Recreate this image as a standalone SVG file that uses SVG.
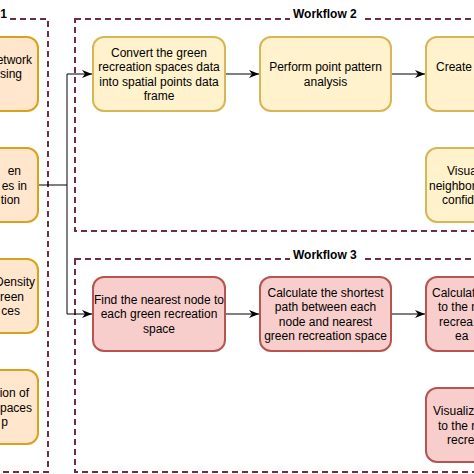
<svg xmlns="http://www.w3.org/2000/svg" width="474" height="474" viewBox="0 0 474 474">
<defs>
<style>
text{font-family:"Liberation Sans",Arial,Helvetica,sans-serif;font-size:12px;fill:#000}
.c{text-anchor:middle}.e{text-anchor:end}.s{text-anchor:start}
.lbl{font-weight:bold;font-size:12px}
.wf{fill:none;stroke:#6e2e3e;stroke-width:2;stroke-dasharray:6 4}
.o{fill:#ffe6cc;stroke:#d8a21f;stroke-width:2}
.y{fill:#fff2cc;stroke:#d6b656;stroke-width:2}
.r{fill:#f8cecc;stroke:#b85450;stroke-width:2}
.ln{fill:none;stroke:#000;stroke-width:1}
</style>
<marker id="ah" viewBox="0 0 10 8" markerWidth="10" markerHeight="8" refX="10" refY="4" orient="auto" markerUnits="userSpaceOnUse">
<path d="M0,0 L10,4 L0,8 L3,4 z" fill="#000"/>
</marker>
</defs>
<rect width="474" height="474" fill="#fff"/>

<g id="workflow1">
<rect class="wf" x="-300" y="19" width="348" height="453"/>
<rect x="-60" y="6" width="70" height="16" fill="#fff"/>
<text class="lbl e" x="7" y="18">Workflow 1</text>
</g>
<g id="workflow2">
<rect class="wf" x="75" y="19" width="500" height="212"/>
<rect x="290" y="6" width="71" height="16" fill="#fff"/>
<text class="lbl s" x="293" y="18">Workflow 2</text>
</g>
<g id="workflow3">
<rect class="wf" x="75" y="259" width="500" height="213"/>
<rect x="290" y="246" width="71" height="16" fill="#fff"/>
<text class="lbl s" x="293" y="259">Workflow 3</text>
</g>

<g id="connectors">
<path class="ln" d="M38,185 H67"/>
<path class="ln" d="M67,74 V314"/>
<path class="ln" d="M67,74 H92" marker-end="url(#ah)"/>
<path class="ln" d="M67,314 H92" marker-end="url(#ah)"/>
<path class="ln" d="M225,74 H259" marker-end="url(#ah)"/>
<path class="ln" d="M391,74 H425" marker-end="url(#ah)"/>
<path class="ln" d="M225,314 H259" marker-end="url(#ah)"/>
<path class="ln" d="M391,314 H425" marker-end="url(#ah)"/>
</g>

<g id="wf1-node1">
<rect class="o" x="-93" y="37" width="131" height="74" rx="11"/>
<text class="e" x="32" y="64">etwork</text>
<text class="e" x="22" y="78.4">sing</text>
</g>
<g id="wf1-node2">
<rect class="o" x="-93" y="148" width="131" height="74" rx="11"/>
<text class="e" x="21" y="175.3">en</text>
<text class="e" x="27" y="189.7">es in</text>
<text class="e" x="20" y="204.1">tion</text>
</g>
<g id="wf1-node3">
<rect class="o" x="-93" y="259" width="131" height="74" rx="11"/>
<text class="e" x="35" y="286.3">Density</text>
<text class="e" x="24" y="300.7">reen</text>
<text class="e" x="20" y="315.1">ces</text>
</g>
<g id="wf1-node4">
<rect class="o" x="-93" y="370" width="131" height="74" rx="11"/>
<text class="e" x="29" y="397.3">tion of</text>
<text class="e" x="32" y="411.7">spaces</text>
<text class="e" x="8" y="426.1">p</text>
</g>

<g id="wf2-convert">
<rect class="y" x="93" y="37" width="132" height="74" rx="11"/>
<text class="c" x="159" y="56.7">Convert the green</text>
<text class="c" x="159" y="71.1">recreation spaces data</text>
<text class="c" x="159" y="85.5">into spatial points data</text>
<text class="c" x="159" y="99.9">frame</text>
</g>
<g id="wf2-perform">
<rect class="y" x="260" y="37" width="131" height="74" rx="11"/>
<text class="c" x="325.5" y="71.1">Perform point pattern</text>
<text class="c" x="325.5" y="85.5">analysis</text>
</g>
<g id="wf2-create">
<rect class="y" x="426" y="37" width="131" height="74" rx="11"/>
<text class="s" x="436" y="71.3">Create</text>
</g>
<g id="wf2-visualize">
<rect class="y" x="426" y="148" width="131" height="74" rx="11"/>
<text class="s" x="447" y="175.3">Visua</text>
<text class="s" x="429" y="189.7">neighbor</text>
<text class="s" x="442" y="204.1">confid</text>
</g>

<g id="wf3-find">
<rect class="r" x="93" y="277" width="132" height="74" rx="11"/>
<text class="c" x="159" y="303.9">Find the nearest node to</text>
<text class="c" x="159" y="318.3">each green recreation</text>
<text class="c" x="159" y="332.7">space</text>
</g>
<g id="wf3-shortest">
<rect class="r" x="260" y="277" width="131" height="74" rx="11"/>
<text class="c" x="325.5" y="296.7">Calculate the shortest</text>
<text class="c" x="325.5" y="311.1">path between each</text>
<text class="c" x="325.5" y="325.5">node and nearest</text>
<text class="c" x="325.5" y="339.9">green recreation space</text>
</g>
<g id="wf3-calc">
<rect class="r" x="426" y="277" width="131" height="74" rx="11"/>
<text class="s" x="432" y="296.7">Calculat</text>
<text class="s" x="438" y="311.1">to the n</text>
<text class="s" x="439" y="325.5">recrea</text>
<text class="s" x="455" y="339.9">ea</text>
</g>
<g id="wf3-visualize">
<rect class="r" x="426" y="388" width="131" height="74" rx="11"/>
<text class="s" x="433" y="415.3">Visualiz</text>
<text class="s" x="438" y="429.7">to the n</text>
<text class="s" x="447" y="444.1">recre</text>
</g>
</svg>
